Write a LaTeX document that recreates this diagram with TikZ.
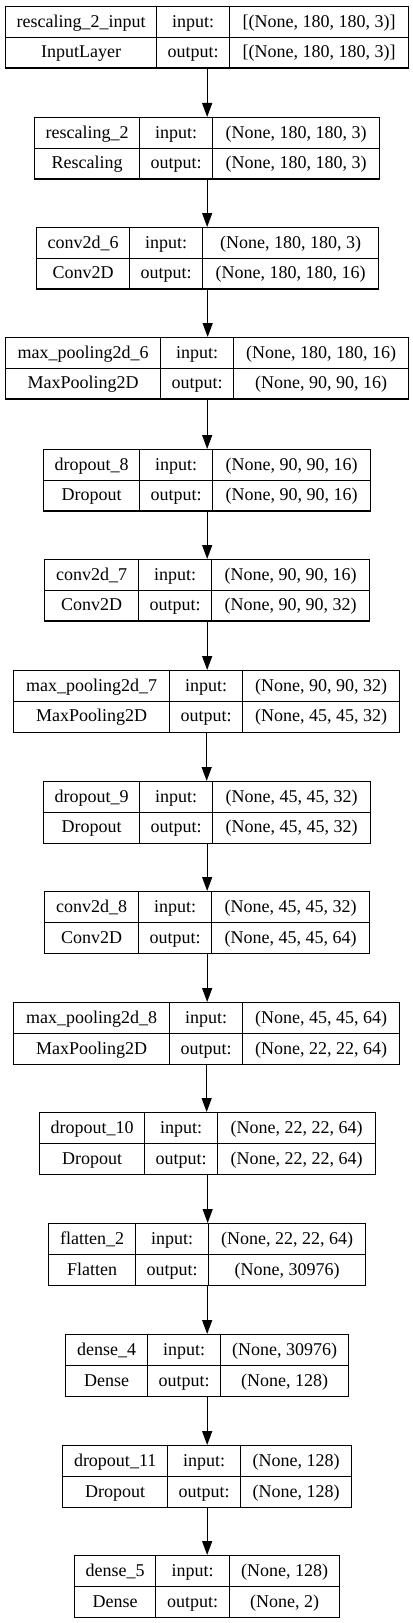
\documentclass[tikz,border=0pt]{standalone}
\usepackage{fontspec}
\setmainfont{Liberation Serif}
\usepackage{tikz}
\usetikzlibrary{arrows.meta,positioning}

\begin{document}
\begin{tikzpicture}[
    x=0.75pt, y=-0.75pt,
    cell/.style={draw, line width=1pt, inner sep=0pt, anchor=north west,
                 minimum height=23.06pt, text height=10.5pt, text depth=2.7pt,
                 font=\fontsize{13.5}{16}\selectfont},
    outline/.style={draw, line width=1pt, inner sep=0pt, anchor=north west,
                 minimum height=46.12pt},
    arr/.style={-{Triangle[length=10.5pt, width=7.5pt]}, line width=1pt}
]
\useasboundingbox (0,0) rectangle (413,1623);

% one record per layer: name, class, input and output shapes
\foreach \lid/\ytop/\xl/\xa/\xb/\xr/\lname/\lcls/\shin/\shout in {
    inp/6/5/156/229/408/rescaling\_2\_input/InputLayer/{[(None, 180, 180, 3)]}/{[(None, 180, 180, 3)]},
    resc/117/34/139/212/379/rescaling\_2/Rescaling/{(None, 180, 180, 3)}/{(None, 180, 180, 3)},
    convA/227/36/129/202/378/conv2d\_6/Conv2D/{(None, 180, 180, 3)}/{(None, 180, 180, 16)},
    poolA/337/5/160/233/408/max\_pooling2d\_6/MaxPooling2D/{(None, 180, 180, 16)}/{(None, 90, 90, 16)},
    dropA/449/43/139/212/370/dropout\_8/Dropout/{(None, 90, 90, 16)}/{(None, 90, 90, 16)},
    convB/559/44/138/211/369/conv2d\_7/Conv2D/{(None, 90, 90, 16)}/{(None, 90, 90, 32)},
    poolB/670/13/169/242/399/max\_pooling2d\_7/MaxPooling2D/{(None, 90, 90, 32)}/{(None, 45, 45, 32)},
    dropB/781/43/139/212/370/dropout\_9/Dropout/{(None, 45, 45, 32)}/{(None, 45, 45, 32)},
    convC/891/44/138/211/369/conv2d\_8/Conv2D/{(None, 45, 45, 32)}/{(None, 45, 45, 64)},
    poolC/1002/13/169/242/399/max\_pooling2d\_8/MaxPooling2D/{(None, 45, 45, 64)}/{(None, 22, 22, 64)},
    dropC/1112/39/144/217/375/dropout\_10/Dropout/{(None, 22, 22, 64)}/{(None, 22, 22, 64)},
    flat/1223/48/135/208/365/flatten\_2/Flatten/{(None, 22, 22, 64)}/{(None, 30976)},
    denseA/1334/65/147/220/348/dense\_4/Dense/{(None, 30976)}/{(None, 128)},
    dropD/1445/62/167/240/351/dropout\_11/Dropout/{(None, 128)}/{(None, 128)},
    denseB/1555/74/155/229/339/dense\_5/Dense/{(None, 128)}/{(None, 2)}}{
  \node[cell, minimum width={(\xa-\xl)*0.75pt}] (\lid-name) at (\xl,\ytop) {\lname};
  \node[cell, minimum width={(\xa-\xl)*0.75pt}] (\lid-cls) at (\xl,\ytop+30.75) {\lcls};
  \node[cell, minimum width={(\xb-\xa)*0.75pt}] (\lid-inlab) at (\xa,\ytop) {input:};
  \node[cell, minimum width={(\xb-\xa)*0.75pt}] (\lid-outlab) at (\xa,\ytop+30.75) {output:};
  \node[cell, minimum width={(\xr-\xb)*0.75pt}] (\lid-in) at (\xb,\ytop) {\shin};
  \node[cell, minimum width={(\xr-\xb)*0.75pt}] (\lid-out) at (\xb,\ytop+30.75) {\shout};
  \node[outline, minimum width={(\xr-\xl)*0.75pt}] (\lid) at (\xl,\ytop) {};
}

\foreach \a/\b in {inp/resc, resc/convA, convA/poolA, poolA/dropA, dropA/convB,
    convB/poolB, poolB/dropB, dropB/convC, convC/poolC, poolC/dropC,
    dropC/flat, flat/denseA, denseA/dropD, dropD/denseB}
  \draw[arr] (\a.south) -- (\a.south |- \b.north);

\end{tikzpicture}
\end{document}
